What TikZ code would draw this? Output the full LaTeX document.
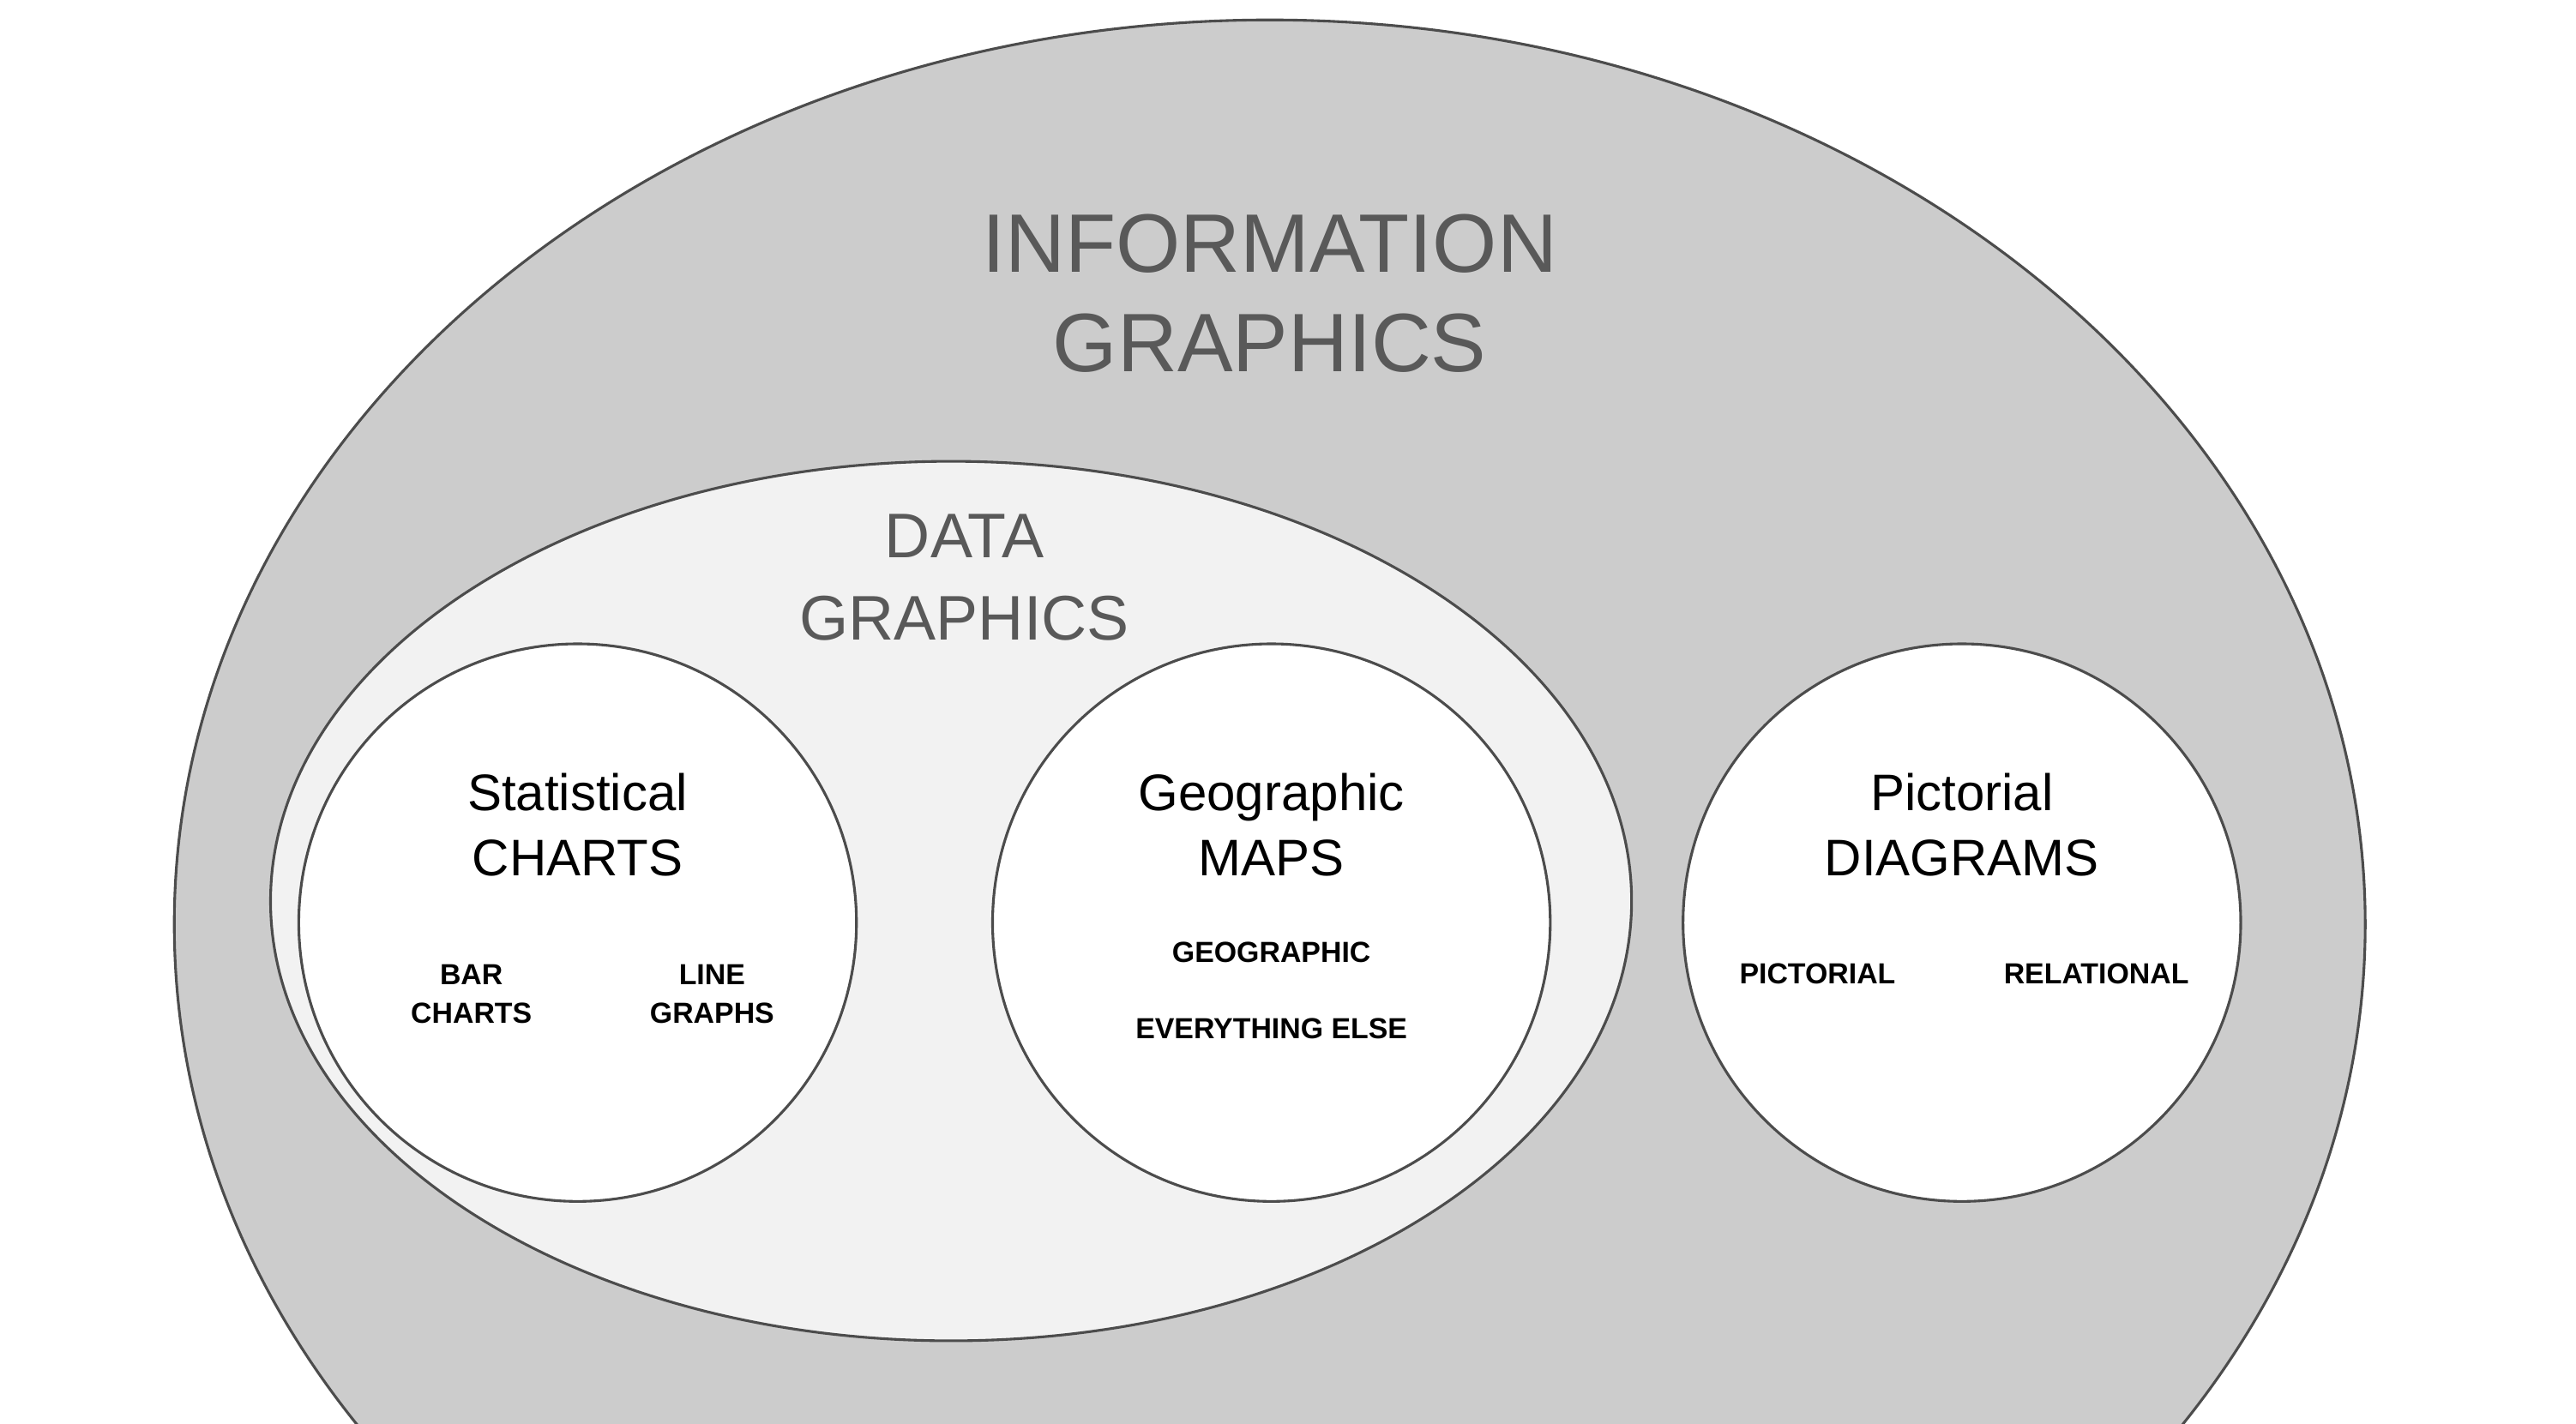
\documentclass[tikz,border=0pt]{standalone}
\usepackage{fontspec}
\setmainfont{Liberation Sans}
\begin{document}
\begin{tikzpicture}[x=1pt,y=-1pt,
  outline/.style={draw=black!70,line width=1.6pt},
  bigtxt/.style={text=black!65,align=center,font=\fontsize{50}{60}\selectfont},
  midtxt/.style={text=black!65,align=center,font=\fontsize{38}{50}\selectfont},
  circtxt/.style={text=black,align=center,font=\fontsize{31}{39}\selectfont},
  smalltxt/.style={text=black,align=center,font=\bfseries\fontsize{17.5}{23}\selectfont}]
\useasboundingbox (0,0) rectangle (1552,858);
\clip (0,0) rectangle (1552,858);
\fill[white] (0,0) rectangle (1552,858);
\draw[outline,fill=black!20] (765,557) ellipse [x radius=660,y radius=545];
\draw[outline,fill=black!5] (573,543) ellipse [x radius=410,y radius=265];
\node[outline,fill=white,circle,minimum size=336pt,inner sep=0] (stat) at (348,556) {};
\node[outline,fill=white,circle,minimum size=336pt,inner sep=0] (geo) at (766,556) {};
\node[outline,fill=white,circle,minimum size=336pt,inner sep=0] (pic) at (1182,556) {};
\node[bigtxt] (info) at (765,177) {INFORMATION\\GRAPHICS};
\node[midtxt] (data) at (581,348) {DATA\\GRAPHICS};
\node[circtxt] (statt) at (348,497) {Statistical\\CHARTS};
\node[circtxt] (geot) at (766,497) {Geographic\\MAPS};
\node[circtxt] (pict) at (1182,497) {Pictorial\\DIAGRAMS};
\node[smalltxt] (bar) at (284,599) {BAR\\CHARTS};
\node[smalltxt] (line) at (429,599) {LINE\\GRAPHS};
\node[smalltxt] (geog) at (766,574) {GEOGRAPHIC};
\node[smalltxt] (else) at (766,620) {EVERYTHING ELSE};
\node[smalltxt] (pictorial) at (1095,587) {PICTORIAL};
\node[smalltxt] (rel) at (1263,587) {RELATIONAL};
\end{tikzpicture}
\end{document}
